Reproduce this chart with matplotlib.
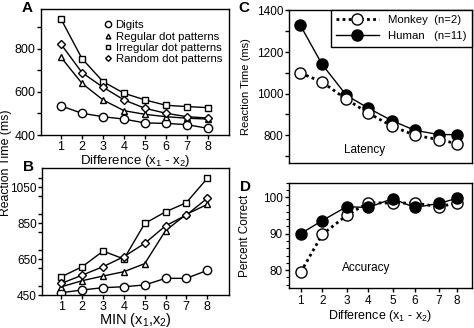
import numpy as np
import matplotlib
matplotlib.use("Agg")
import matplotlib.pyplot as plt
from matplotlib.lines import Line2D
from matplotlib.ticker import MultipleLocator, FixedLocator

plt.rcParams['font.family'] = ['Liberation Sans', 'DejaVu Sans']
plt.rcParams['mathtext.default'] = 'regular'
plt.rcParams['axes.linewidth'] = 1.0

# panels A and B: human RT by stimulus format
diff = [1, 2, 3, 4, 5, 6, 7, 8]
a_digits = [535, 501, 485, 474, 456, 454, 448, 431]
a_regular = [761, 640, 563, 513, 496, 485, 478, 474]
a_irregular = [939, 755, 648, 594, 563, 538, 532, 527]
a_random = [822, 690, 622, 563, 524, 501, 485, 479]

mins = [1, 2, 3, 4, 5, 6, 7, 8]
b_digits = [463, 478, 491, 496, 506, 543, 543, 587]
b_regular = [496, 530, 556, 580, 625, 809, 900, 955]
b_irregular = [552, 608, 695, 651, 849, 914, 965, 1100]
b_random = [515, 561, 608, 664, 738, 836, 896, 989]

# panels C and D: monkey vs human, x axis spaced unevenly
cd_pos = [1, 1.97, 3.06, 4.03, 5.12, 6.12, 7.2, 8.0]
cd_labels = ['1', '2', '3', '4', '5', '6', '7', '8']
c_monkey = [1099, 1056, 973, 907, 843, 800, 779, 760]
c_human = [1328, 1141, 992, 931, 869, 824, 803, 803]
d_monkey = [79.4, 89.8, 95.0, 98.5, 98.4, 98.4, 97.4, 98.4]
d_human = [90.0, 93.6, 97.4, 97.2, 99.6, 97.2, 98.3, 99.7]

fig = plt.figure(figsize=(4.74, 3.28), dpi=100)
axA = fig.add_axes([0.0865, 0.5884, 0.3966, 0.3841])
axB = fig.add_axes([0.0880, 0.1006, 0.3951, 0.3880])
axC = fig.add_axes([0.6097, 0.5021, 0.3854, 0.4674])
axD = fig.add_axes([0.6103, 0.1210, 0.3848, 0.3220])

styles = [
    ('Digits', 'o', 6.0),
    ('Regular dot patterns', '^', 4.5),
    ('Irregular dot patterns', 's', 4.0),
    ('Random dot patterns', 'D', 3.8),
]

for ax, x, series in [(axA, diff, [a_digits, a_regular, a_irregular, a_random]),
                      (axB, mins, [b_digits, b_regular, b_irregular, b_random])]:
    for (name, mk, ms), y in zip(styles, series):
        ax.plot(x, y, color='black', lw=1.0, marker=mk, ms=ms,
                mfc='white', mec='black', mew=1.0, label=name)
    ax.set_xticks(diff)
    ax.tick_params(labelsize=9, length=3, width=1, pad=1)
    ax.tick_params(which='minor', length=3, width=1)

axA.set_xlim(0.05, 9.0)
axA.set_ylim(400, 985)
axA.yaxis.set_major_locator(FixedLocator([400, 600, 800]))
axA.yaxis.set_minor_locator(MultipleLocator(100))
axA.set_xlabel('Difference (x$_1$ - x$_2$)', fontsize=9.5, labelpad=0)

handles = [Line2D([], [], ls='none', marker=mk, ms=ms * 0.75, mfc='white',
                  mec='black', mew=1.0) for _, mk, ms in styles]
axA.legend(handles, [s[0] for s in styles], loc='upper left',
           bbox_to_anchor=(0.30, 0.965), frameon=False, fontsize=8.2,
           handlelength=0.6, handletextpad=0.4, labelspacing=0.12,
           borderpad=0.1)

axB.set_xlim(0.05, 9.05)
axB.set_ylim(450, 1160)
axB.yaxis.set_major_locator(FixedLocator([450, 650, 850, 1050]))
axB.yaxis.set_minor_locator(MultipleLocator(100))
axB.tick_params(axis='y', pad=0.5, labelsize=8.5)
axB.set_xlabel('MIN (x$_1$,x$_2$)', fontsize=10.5, labelpad=-1)

fig.text(0.012, 0.505, 'Reaction Time (ms)', rotation=90, fontsize=8.8,
         ha='center', va='center')

# monkey vs human
axC.plot(cd_pos, c_monkey, color='black', lw=2.0, ls=(0, (1, 1.2)),
         marker='o', ms=8, mfc='white', mec='black', mew=1.0,
         label='Monkey  (n=2)', zorder=3)
axC.plot(cd_pos, c_human, color='black', lw=1.0, ls='-',
         marker='o', ms=8, mfc='black', mec='black', label='Human   (n=11)',
         zorder=2)
axC.set_xlim(0.49, 8.67)
axC.set_ylim(665, 1402)
axC.set_xticks([])
axC.yaxis.set_major_locator(FixedLocator([800, 1000, 1200, 1400]))
axC.yaxis.set_minor_locator(FixedLocator([700, 900, 1100, 1300]))
axC.tick_params(labelsize=8.5, length=3, width=1, pad=1)
axC.tick_params(which='minor', length=3, width=1)
axC.set_ylabel('Reaction Time (ms)', fontsize=8)
axC.yaxis.set_label_coords(-0.208, 0.5)
axC.text(0.416, 0.087, 'Latency', transform=axC.transAxes, fontsize=8.5,
         ha='center', va='center')
leg = axC.legend(loc='upper right', bbox_to_anchor=(1.0, 1.0), fontsize=8.2,
                 fancybox=False, edgecolor='black', framealpha=1,
                 handlelength=3.8, handletextpad=0.8, borderpad=0.45,
                 labelspacing=0.55, borderaxespad=0)
leg.get_frame().set_linewidth(1.0)

axD.plot(cd_pos, d_monkey, color='black', lw=2.0, ls=(0, (1, 1.2)),
         marker='o', ms=8, mfc='white', mec='black', mew=1.0, zorder=2)
axD.plot(cd_pos, d_human, color='black', lw=1.0, ls='-',
         marker='o', ms=8, mfc='black', mec='black', zorder=3)
axD.set_xlim(0.49, 8.67)
axD.set_ylim(75, 104)
axD.set_xticks(cd_pos)
axD.set_xticklabels(cd_labels)
axD.yaxis.set_major_locator(FixedLocator([80, 90, 100]))
axD.yaxis.set_minor_locator(MultipleLocator(2))
axD.tick_params(labelsize=8.5, length=3, width=1, pad=1.5)
axD.tick_params(which='minor', length=2, width=0.8)
axD.set_ylabel('Percent Correct', fontsize=8.5)
axD.yaxis.set_label_coords(-0.21, 0.5)
axD.set_xlabel('Difference (x$_1$ - x$_2$)', fontsize=9, labelpad=1)
axD.text(0.424, 0.19, 'Accuracy', transform=axD.transAxes, fontsize=8.5,
         ha='center', va='center')

for lbl, x, y in [('A', 0.057, 0.975), ('B', 0.060, 0.49),
                  ('C', 0.515, 0.975), ('D', 0.517, 0.43)]:
    fig.text(x, y, lbl, fontsize=11, fontweight='bold', ha='center',
             va='center')

fig.savefig('out.png', dpi=100)
